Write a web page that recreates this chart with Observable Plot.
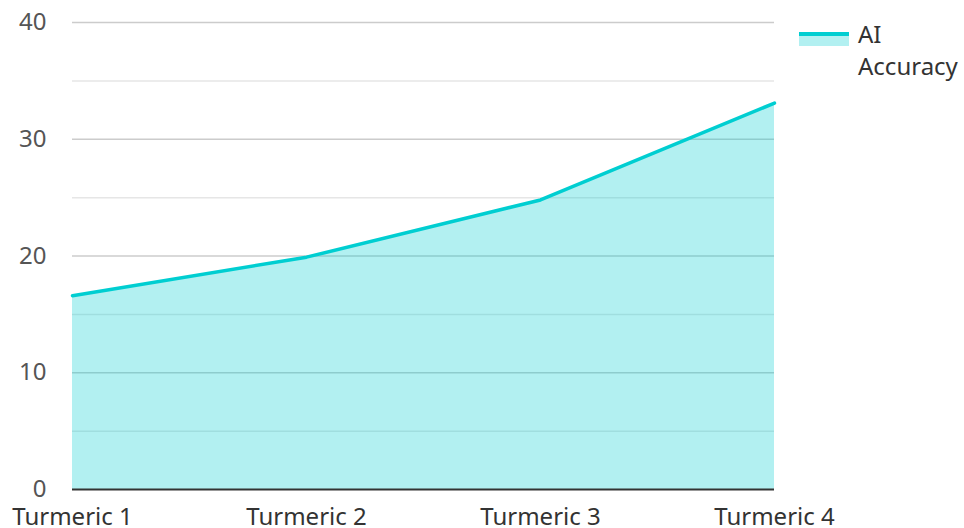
<!DOCTYPE html>
<html>
<head>
<meta charset="utf-8">
<script src="https://cdn.jsdelivr.net/npm/d3@7"></script>
<script src="https://cdn.jsdelivr.net/npm/@observablehq/plot@0.6"></script>
<style>
  html, body { margin: 0; padding: 0; background: #fff; }
  #wrap { position: relative; width: 964px; height: 528px; font-family: "Noto Sans", "Open Sans", sans-serif; }
  #legend { position: absolute; left: 799px; top: 18px; display: flex; align-items: flex-start; color: #333; font-size: 24px; line-height: 32px; }
  #legend .sw { width: 50px; height: 14px; margin-top: 14px; margin-right: 9px; background: rgba(0,206,209,0.3); border-top: 4px solid #00CED1; box-sizing: border-box; }
</style>
</head>
<body>
<div id="wrap">
  <div id="chart"></div>
  <div id="legend"><div class="sw"></div><div>AI<br>Accuracy</div></div>
</div>
<script>
const categories = ["Turmeric 1", "Turmeric 2", "Turmeric 3", "Turmeric 4"];
const accuracy = [16.6, 19.9, 24.8, 33.1];
const majorTicks = [0, 10, 20, 30, 40];
const minorTicks = [5, 15, 25, 35];
const seriesName = "AI Accuracy";

const data = categories.map((c, i) => ({category: c, value: accuracy[i]}));

const chart = Plot.plot({
  width: 964,
  height: 528,
  marginLeft: 72,
  marginRight: 190,
  marginTop: 22,
  marginBottom: 39,
  style: {fontFamily: "'Noto Sans', 'Open Sans', sans-serif", fontSize: "24px", color: "#333", background: "#fff"},
  x: {type: "point", domain: categories, padding: 0, label: null},
  y: {domain: [0, 40], label: null},
  marks: [
    Plot.ruleY(minorTicks, {stroke: "#e6e6e6", strokeWidth: 1.5}),
    Plot.ruleY(majorTicks.filter(d => d !== 0), {stroke: "#cccccc", strokeWidth: 1.5}),
    Plot.areaY(data, {x: "category", y: "value", fill: "#00CED1", fillOpacity: 0.3}),
    Plot.lineY(data, {x: "category", y: "value", stroke: "#00CED1", strokeWidth: 3.5}),
    Plot.ruleY([0], {stroke: "#333", strokeWidth: 2}),
    Plot.axisY({ticks: majorTicks, tickSize: 0, tickPadding: 26, fill: "#555", fontSize: 24, label: null}),
    Plot.axisX({tickSize: 0, tickPadding: 18, fill: "#333", fontSize: 24, label: null})
  ]
});
document.getElementById("chart").appendChild(chart);
</script>
</body>
</html>
